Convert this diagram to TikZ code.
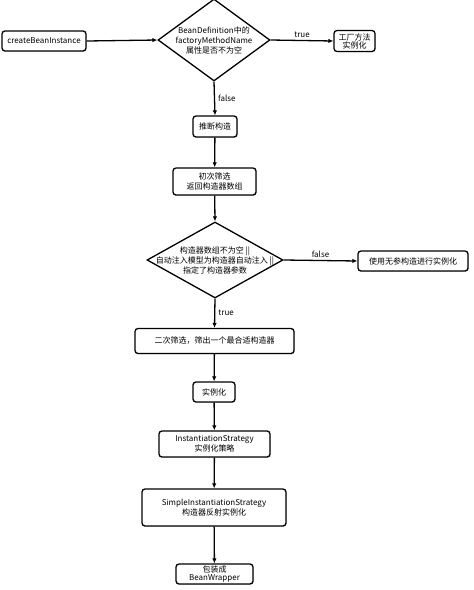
\documentclass[tikz,border=0pt]{standalone}
\usepackage{fontspec}
\setmainfont{Noto Sans CJK SC}
\usetikzlibrary{shapes.geometric,arrows.meta,shadows}
\begin{document}
\begin{tikzpicture}[x=1pt,y=-1pt,
  every node/.style={font=\fontsize{8}{10}\selectfont, align=center, inner sep=1pt},
  box/.style={draw=black, line width=1.3pt, rounded corners=3pt, fill=white,
    drop shadow={opacity=0.25, shadow xshift=0.8pt, shadow yshift=-0.8pt}},
  dia/.style={draw=black, line width=1.3pt, diamond, fill=white, inner sep=0pt},
  arr/.style={line width=1.3pt, -{Latex[length=5pt,width=4.5pt]}},
  lbl/.style={font=\fontsize{8}{9}\selectfont}]
\useasboundingbox (0,0) rectangle (474,590);
\node[box, minimum width=84pt, minimum height=20pt] (cbi) at (44,41) {createBeanInstance};
\node[dia, minimum width=112pt, minimum height=82pt] (d1) at (214,40) {};
\node (d1t) at (d1.center) {BeanDefinition中的\\factoryMethodName\\属性是否不为空};
\node[box, minimum width=41pt, minimum height=21pt, inner sep=0pt] (fac) at (354.5,41) {工厂方法\\[-2pt]实例化};
\node[box, minimum width=44pt, minimum height=21pt] (infer) at (215,126.5) {推断构造};
\node[box, minimum width=83pt, minimum height=27pt] (first) at (214.5,181.5) {初次筛选\\返回构造器数组};
\node[dia, minimum width=136pt, minimum height=76pt] (d2) at (215,260) {};
\node (d2t) at (d2.center) {构造器数组不为空 ||\\自动注入模型为构造器自动注入 ||\\指定了构造器参数};
\node[box, minimum width=110pt, minimum height=20pt] (noarg) at (413,261) {使用无参构造进行实例化};
\node[box, minimum width=159pt, minimum height=25pt] (second) at (214.5,341) {二次筛选，筛出一个最合适构造器};
\node[box, minimum width=42pt, minimum height=20pt] (inst) at (214,392) {实例化};
\node[box, minimum width=111pt, minimum height=26pt] (strat) at (214.5,444) {InstantiationStrategy\\实例化策略};
\node[box, minimum width=144pt, minimum height=37pt] (simple) at (214,507.5) {SimpleInstantiationStrategy\\构造器反射实例化};
\node[box, minimum width=77pt, minimum height=20pt, inner sep=0pt] (wrap) at (214.5,574) {包装成\\[-2pt]BeanWrapper};
\draw[arr] (cbi.east) -- (d1.west);
\draw[arr] (d1.east) -- node[lbl, above=1pt] {true} (fac.west);
\draw[arr] (d1.south) -- node[lbl, right=2pt] {false} (infer.north);
\draw[arr] (infer) -- (first);
\draw[arr] (first) -- (d2.north);
\draw[arr] (d2.east) -- node[lbl, above=1pt] {false} (noarg.west);
\draw[arr] (d2.south) -- node[lbl, right=2pt] {true} (second.north);
\draw[arr] (second) -- (inst);
\draw[arr] (inst) -- (strat);
\draw[arr] (strat) -- (simple);
\draw[arr] (simple) -- (wrap);
\end{tikzpicture}
\end{document}
